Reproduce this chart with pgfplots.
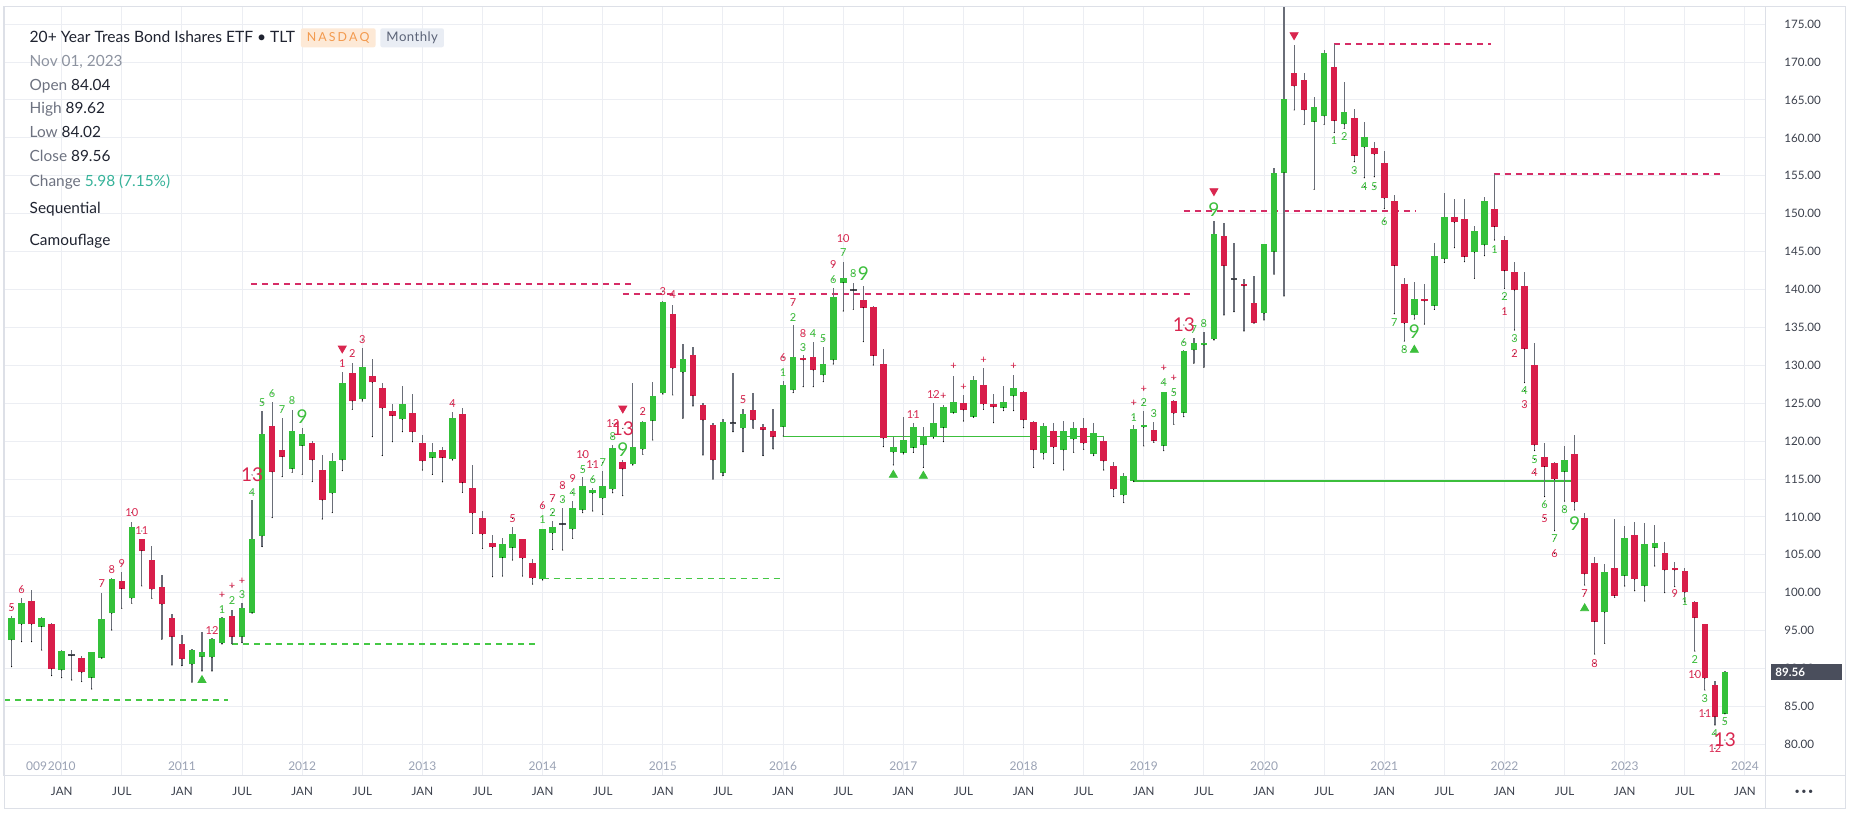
\documentclass[border=0pt]{standalone}
\usepackage{fontspec}
\setmainfont{Lato}
\usepackage{pgfplots}
\usepackage{pgfplotstable}
\pgfplotsset{compat=1.18}
\pgfplotsset{nomk/.style={only marks, mark=*, mark size=0.01pt, mark options={draw=none, fill=none}}}
\newcommand\fs[1]{\fontsize{#1}{#1}\selectfont}
\definecolor{upc}{HTML}{34C13A}
\definecolor{dnc}{HTML}{D81E4A}
\definecolor{wickc}{HTML}{6A6E78}
\definecolor{gridc}{HTML}{ECEEF3}
\definecolor{framec}{HTML}{DDE0E7}
\definecolor{tickc}{HTML}{3A3F4B}
\definecolor{yearc}{HTML}{9AA2B4}
\definecolor{tdg}{HTML}{3CBF3C}
\definecolor{tdr}{HTML}{D9264F}
\definecolor{pinkc}{HTML}{D62D66}
\definecolor{gdash}{HTML}{45C845}
\definecolor{boxc}{HTML}{4A4E5C}
\definecolor{titlec}{HTML}{1F2330}
\definecolor{grayt}{HTML}{8D93A0}
\definecolor{labc}{HTML}{6D7280}
\definecolor{tealc}{HTML}{36B39A}
\definecolor{nasbg}{HTML}{FDE9D6}
\definecolor{nastx}{HTML}{F39A4E}
\definecolor{monbg}{HTML}{E9EDF4}
\definecolor{montx}{HTML}{5C6478}

% up candles: month index (0 = Jan 2010), open, high, low, close
\pgfplotstableread{
m o h l c
-5 93.76 96.97 90.24 96.62
-4 95.83 99.26 93.54 98.69
-2 95.52 96.84 92.44 96.71
0 89.80 92.40 88.79 92.31
3 88.79 92.22 87.30 92.14
4 91.43 100.01 91.34 96.49
5 97.28 101.90 95.08 101.77
7 99.26 109.37 98.60 108.63
13 90.55 92.53 88.18 92.44
14 91.57 94.86 89.67 92.14
15 91.48 93.98 89.67 93.90
16 93.32 96.84 93.24 96.71
18 94.20 98.60 93.41 97.94
19 97.37 112.23 97.30 107.09
20 107.48 123.97 106.08 120.90
23 116.37 124.11 115.88 121.34
24 119.40 121.78 115.62 120.90
27 113.11 118.48 110.56 117.38
28 117.51 129.16 116.10 127.71
30 125.51 132.24 125.29 129.74
34 122.87 127.26 121.24 124.85
37 117.81 119.70 115.61 118.51
39 117.59 123.88 117.50 123.09
44 104.62 107.26 102.20 106.38
45 105.94 108.71 104.31 107.70
48 101.76 108.44 101.67 108.36
49 107.83 109.45 105.72 108.62
51 108.36 112.09 107.17 111.13
52 110.91 115.22 110.56 114.12
53 113.11 113.77 110.78 113.55
54 112.45 116.10 110.34 114.07
55 113.63 119.48 113.19 119.04
57 116.93 127.71 116.84 119.26
58 118.91 122.69 118.25 122.52
59 122.69 127.75 120.14 125.95
60 126.30 138.52 126.20 138.30
62 129.07 132.81 123.00 130.78
66 115.83 122.87 115.44 122.56
68 121.68 124.19 118.60 123.57
72 121.90 127.97 120.67 127.40
73 126.74 135.32 126.39 131.05
76 128.72 132.37 127.84 130.17
77 130.70 140.16 130.17 138.97
78 140.90 143.67 137.16 141.56
83 118.52 120.59 116.85 119.18
84 118.48 123.14 118.30 120.15
85 119.14 122.35 118.52 121.82
86 119.49 121.91 116.54 120.72
87 120.50 125.07 120.40 122.43
88 121.77 124.76 119.93 124.46
89 123.75 128.65 123.70 125.18
91 123.23 128.59 123.14 128.06
94 124.41 127.32 124.02 125.20
95 125.95 128.72 124.02 126.96
98 118.39 122.35 117.64 121.99
100 118.83 122.65 116.19 121.33
101 120.24 122.57 118.52 121.77
103 118.30 122.35 118.08 121.03
106 112.85 115.84 111.88 115.40
107 114.74 122.13 114.65 121.55
108 121.82 124.02 119.36 122.00
110 119.39 126.52 118.73 126.43
112 123.75 132.00 123.22 131.88
113 132.02 133.55 130.26 132.90
114 132.68 134.44 129.73 132.98
115 133.42 149.08 133.33 147.32
120 136.85 146.00 135.97 145.96
121 144.99 155.98 142.00 155.41
122 155.41 179.70 139.14 165.09
125 162.14 165.44 153.21 164.03
126 162.89 171.59 161.79 171.15
128 161.83 167.33 161.26 163.37
130 158.75 162.14 154.75 160.07
135 136.63 141.03 136.10 138.70
137 137.86 146.09 137.38 144.42
138 144.02 152.77 143.58 149.61
141 144.90 148.37 141.47 147.76
142 145.87 152.16 144.46 151.67
150 115.96 119.35 112.09 117.50
154 97.41 103.78 93.32 102.77
156 102.25 108.80 100.88 107.26
158 100.88 109.15 98.90 106.42
159 105.94 108.93 103.52 106.51
166 84.04 89.62 84.02 89.56
}\up

% down candles
\pgfplotstableread{
m o h l c
-3 98.95 100.36 93.54 95.83
-1 95.83 95.96 89.06 89.94
2 91.34 91.70 88.27 89.50
6 101.55 102.78 97.94 100.53
8 107.05 107.15 100.89 105.55
9 104.32 106.16 99.26 100.45
10 100.80 102.34 93.85 98.47
11 96.71 97.15 90.46 94.20
12 93.24 94.42 90.38 91.26
17 96.97 97.72 93.24 94.20
21 122.00 125.21 109.90 115.93
22 118.83 123.10 115.31 117.95
25 119.80 120.02 114.65 117.51
26 116.19 118.17 109.73 112.23
29 128.94 130.35 124.19 125.29
31 128.59 130.79 120.59 127.76
32 126.97 127.71 118.10 124.33
33 124.01 124.85 119.92 123.35
35 123.75 126.16 119.92 121.20
36 119.79 120.80 116.18 117.37
38 118.82 119.26 114.64 117.81
40 123.53 124.32 113.24 114.51
41 113.85 116.84 107.83 110.47
42 109.81 110.82 105.85 107.70
43 106.51 107.61 102.11 105.98
46 107.04 107.12 102.20 104.53
47 103.87 104.40 101.14 101.89
56 117.28 117.50 112.80 116.32
61 136.72 137.95 126.08 129.60
63 131.36 132.46 124.63 125.99
64 124.76 124.98 118.16 122.78
65 122.12 122.34 114.95 117.50
69 124.10 126.30 121.68 122.78
70 121.82 122.30 118.08 121.50
71 121.33 124.19 118.96 120.59
74 130.88 131.36 127.18 130.70
75 131.05 133.03 127.18 129.38
80 138.62 140.46 133.12 137.60
81 137.74 137.82 130.04 131.27
82 130.17 132.15 119.27 120.37
90 125.07 126.08 122.65 124.11
92 127.40 129.60 124.19 124.85
93 124.85 126.17 122.43 124.50
96 126.52 126.60 121.77 122.79
97 122.57 122.65 116.54 118.83
99 121.38 122.43 117.07 119.18
102 121.77 123.01 118.92 119.71
104 120.02 120.59 116.19 117.38
105 116.72 117.20 112.67 113.64
109 121.46 122.56 119.83 120.06
111 125.29 125.37 122.21 123.66
116 147.10 148.73 136.63 143.14
118 140.77 141.34 134.52 140.50
119 138.17 141.82 135.53 135.60
123 168.60 172.25 163.68 166.84
124 167.64 168.52 161.79 163.68
127 169.31 172.40 160.70 162.27
129 162.58 163.76 156.86 157.65
131 158.62 159.41 154.88 157.83
132 156.73 158.27 150.70 152.02
133 151.72 152.46 136.80 143.14
134 140.68 141.47 133.20 135.53
136 138.74 140.68 135.44 138.48
139 149.52 151.89 145.51 148.86
140 149.30 151.89 143.67 144.33
143 150.57 155.23 146.53 148.29
144 146.53 147.05 140.15 142.48
145 142.35 143.58 134.65 139.93
146 140.46 142.35 127.71 132.15
147 130.04 132.98 118.74 119.48
148 117.86 119.79 112.67 116.62
149 117.06 117.28 108.18 114.95
151 118.30 120.80 110.91 111.92
152 109.90 110.56 101.01 102.47
153 103.87 104.75 91.91 96.18
155 103.21 109.72 99.39 99.61
157 107.57 109.37 100.26 101.76
160 105.28 106.64 100.00 102.99
161 103.30 104.00 100.79 102.99
162 102.86 103.21 98.81 100.04
163 98.81 98.90 92.30 96.70
164 95.82 95.90 87.16 88.70
165 87.82 88.39 82.54 83.64
}\dn

% doji candles
\pgfplotstableread{
m o h l c
1 91.70 92.44 88.49 91.76
50 109.00 111.13 105.63 109.15
67 122.40 128.94 121.24 122.47
79 139.89 140.90 137.38 139.98
117 141.43 146.09 137.07 141.30
}\dj

% TD sequential counts: small green
\pgfplotstableread{
m p t
16 97.81 1
17 98.91 2
18 99.79 3
19 113.25 4
20 125.07 5
21 126.22 6
22 124.19 7
23 125.29 8
48 109.59 1
49 110.60 2
50 112.23 3
51 113.19 4
52 116.27 5
53 114.95 6
54 117.15 7
55 120.58 8
72 129.03 1
73 136.33 2
74 132.33 3
75 134.13 4
76 133.47 5
77 141.25 6
78 144.86 7
79 142.13 8
107 123.14 1
108 125.07 2
109 123.66 3
110 127.71 4
111 126.39 5
112 133.03 6
113 134.65 7
114 135.53 8
127 159.60 1
128 160.16 2
129 155.67 3
130 153.56 4
131 153.56 5
132 148.95 6
133 135.62 7
134 132.10 8
143 145.30 1
144 139.05 2
145 133.47 3
146 126.65 4
147 117.59 5
148 111.57 6
149 107.17 7
150 110.99 8
162 98.81 1
163 91.12 2
164 86.06 3
165 81.44 4
166 82.98 5
}\sg

% small red
\pgfplotstableread{
m p t
-5 98.03 5
-4 100.36 6
4 101.15 7
5 103.09 8
6 103.79 9
7 110.56 10
8 108.14 11
15 95.00 12
16 99.70 +
17 100.80 +
18 101.55 +
28 130.26 1
29 131.49 2
30 133.34 3
39 124.89 4
45 109.81 5
48 111.43 6
49 112.45 7
50 114.12 8
51 115.08 9
52 118.16 10
53 116.93 11
55 122.34 12
58 123.88 2
60 139.71 3
61 139.27 4
68 125.51 5
72 131.01 6
73 138.26 7
74 134.13 8
77 143.23 9
78 146.66 10
85 123.44 11
87 126.08 12
88 125.95 +
89 129.82 +
90 127.10 +
92 130.70 +
95 129.82 +
107 124.98 +
108 126.83 +
110 129.60 +
111 128.28 +
144 137.07 1
145 131.58 2
146 124.76 3
147 115.83 4
148 109.81 5
149 105.19 6
152 99.91 7
153 90.68 8
161 99.83 9
163 89.23 10
164 84.08 11
165 79.46 12
}\sr

\pgfplotstableread{
m p t
24 123.23 9
56 118.82 9
80 142.13 9
115 150.57 9
135 134.43 9
151 109.15 9
}\bg

\pgfplotstableread{
m p t
19 115.53 13
56 121.68 13
112 135.31 13
166 80.56 13
}\br

\begin{document}
\begin{tikzpicture}
\useasboundingbox (0,0) rectangle (924.5pt,408.5pt);
\fill[white] (0,0) rectangle (924.5pt,408.5pt);
\begin{axis}[
  at={(2pt,20.5pt)}, anchor=south west,
  scale only axis, width=880.5pt, height=384.5pt,
  xmin=-5.76, xmax=170.0, ymin=75.82, ymax=177.27,
  /pgf/number format/assume math mode=true,
  axis line style={draw=framec, line width=0.5pt},
  grid=major, major grid style={draw=gridc, line width=0.5pt},
  major tick length=0pt, tick style={draw=none},
  xtick={0,6,...,168},
  xticklabels={JAN,JUL,JAN,JUL,JAN,JUL,JAN,JUL,JAN,JUL,JAN,JUL,JAN,JUL,JAN,JUL,JAN,JUL,JAN,JUL,JAN,JUL,JAN,JUL,JAN,JUL,JAN,JUL,JAN},
  xticklabel style={font=\fs{5.8}, text=tickc, anchor=center, yshift=-7.5pt},
  ytick={80,85,...,175},
  yticklabel pos=right,
  y tick label style={/pgf/number format/fixed, /pgf/number format/fixed zerofill, /pgf/number format/precision=2},
  yticklabel style={font=\fs{5.8}, text=tickc, anchor=west, inner sep=0pt, xshift=9.5pt},
  extra y ticks={89.56},
  extra y tick style={grid=none, yticklabel style={fill=boxc, text=white, font=\fs{5.8}\bfseries, inner xsep=2pt, inner ysep=0pt, minimum height=8pt, text width=31.5pt, align=left, xshift=-6.5pt}},
]
% TD support / resistance lines
\addplot[gdash, line width=0.85pt, dash pattern=on 3pt off 2.5pt] coordinates {(-5.76,85.85) (16.6,85.85)};
\addplot[gdash, line width=0.85pt, dash pattern=on 3pt off 2.5pt] coordinates {(17,93.23) (47.7,93.23)};
\addplot[gdash, line width=0.85pt, dash pattern=on 3pt off 2.5pt] coordinates {(48,101.86) (71.9,101.86)};
\addplot[pinkc, line width=0.85pt, dash pattern=on 3pt off 2.5pt] coordinates {(18.9,140.7) (57.1,140.7)};
\addplot[pinkc, line width=0.85pt, dash pattern=on 3pt off 2.5pt] coordinates {(56,139.4) (113,139.4)};
\addplot[pinkc, line width=0.85pt, dash pattern=on 3pt off 2.5pt] coordinates {(112,150.35) (135.1,150.35)};
\addplot[pinkc, line width=0.85pt, dash pattern=on 3pt off 2.5pt] coordinates {(127,172.4) (142.7,172.4)};
\addplot[pinkc, line width=0.85pt, dash pattern=on 3pt off 2.5pt] coordinates {(143,155.23) (166,155.23)};
\addplot[tdg, line width=0.75pt] coordinates {(72,120.59) (104,120.59)};
\addplot[tdg, line width=0.75pt] coordinates {(107,114.74) (150.9,114.74)};
% wicks
\addplot[nomk, error bars/.cd, y dir=plus, y explicit, error mark=none,
  error bar style={line width=0.6pt, draw=wickc}]
  table[x=m, y=l, y error plus expr={\thisrow{h}-\thisrow{l}}] {\up};
\addplot[nomk, error bars/.cd, y dir=plus, y explicit, error mark=none,
  error bar style={line width=0.6pt, draw=wickc}]
  table[x=m, y=l, y error plus expr={\thisrow{h}-\thisrow{l}}] {\dn};
\addplot[nomk, error bars/.cd, y dir=plus, y explicit, error mark=none,
  error bar style={line width=0.6pt, draw=wickc}]
  table[x=m, y=l, y error plus expr={\thisrow{h}-\thisrow{l}}] {\dj};
% bodies
\addplot[nomk, error bars/.cd, y dir=plus, y explicit, error mark=none,
  error bar style={line width=3.3pt, draw=upc}]
  table[x=m, y=o, y error plus expr={max(\thisrow{c}-\thisrow{o},0.25)}] {\up};
\addplot[nomk, error bars/.cd, y dir=plus, y explicit, error mark=none,
  error bar style={line width=3.3pt, draw=dnc}]
  table[x=m, y=c, y error plus expr={max(\thisrow{o}-\thisrow{c},0.25)}] {\dn};
\addplot[nomk, error bars/.cd, x dir=both, x fixed=0.33, error mark=none,
  error bar style={line width=0.9pt, draw=wickc!70!black}]
  table[x=m, y expr={(\thisrow{o}+\thisrow{c})/2}] {\dj};
% setup arrows
\addplot[only marks, mark=triangle*, mark size=2.3pt, color=tdg] coordinates {(14,88.45) (83,115.53) (86,115.40) (135,132.02) (152,97.93)};
\addplot[only marks, mark=triangle*, mark size=2.3pt, color=tdr, mark options={rotate=180}] coordinates {(28,132.24) (56,124.32) (115,153.0) (123,173.57)};
% counts
\addplot[nomk, nodes near coords, point meta=explicit symbolic,
  every node near coord/.append style={anchor=center, inner sep=0pt, font=\fs{5.5}, text=tdg}]
  table[x=m, y=p, meta=t] {\sg};
\addplot[nomk, nodes near coords, point meta=explicit symbolic,
  every node near coord/.append style={anchor=center, inner sep=0pt, font=\fs{5.5}, text=tdr}]
  table[x=m, y=p, meta=t] {\sr};
\addplot[nomk, nodes near coords, point meta=explicit symbolic,
  every node near coord/.append style={anchor=center, inner sep=0pt, font=\fs{9.5}, text=tdg}]
  table[x=m, y=p, meta=t] {\bg};
\addplot[nomk, nodes near coords, point meta=explicit symbolic,
  every node near coord/.append style={anchor=center, inner sep=0pt, font=\fs{9.5}, text=tdr}]
  table[x=m, y=p, meta=t] {\br};
% year labels
\node[font=\fs{6}, text=yearc, inner sep=0pt, yshift=5pt] (y2010) at (axis cs:0,75.82) {2010};
\node[font=\fs{6}, text=yearc, inner sep=0pt, anchor=east] at (y2010.west) {009};
\node[font=\fs{6}, text=yearc, inner sep=0pt, yshift=5pt] at (axis cs:12,75.82) {2011};
\node[font=\fs{6}, text=yearc, inner sep=0pt, yshift=5pt] at (axis cs:24,75.82) {2012};
\node[font=\fs{6}, text=yearc, inner sep=0pt, yshift=5pt] at (axis cs:36,75.82) {2013};
\node[font=\fs{6}, text=yearc, inner sep=0pt, yshift=5pt] at (axis cs:48,75.82) {2014};
\node[font=\fs{6}, text=yearc, inner sep=0pt, yshift=5pt] at (axis cs:60,75.82) {2015};
\node[font=\fs{6}, text=yearc, inner sep=0pt, yshift=5pt] at (axis cs:72,75.82) {2016};
\node[font=\fs{6}, text=yearc, inner sep=0pt, yshift=5pt] at (axis cs:84,75.82) {2017};
\node[font=\fs{6}, text=yearc, inner sep=0pt, yshift=5pt] at (axis cs:96,75.82) {2018};
\node[font=\fs{6}, text=yearc, inner sep=0pt, yshift=5pt] at (axis cs:108,75.82) {2019};
\node[font=\fs{6}, text=yearc, inner sep=0pt, yshift=5pt] at (axis cs:120,75.82) {2020};
\node[font=\fs{6}, text=yearc, inner sep=0pt, yshift=5pt] at (axis cs:132,75.82) {2021};
\node[font=\fs{6}, text=yearc, inner sep=0pt, yshift=5pt] at (axis cs:144,75.82) {2022};
\node[font=\fs{6}, text=yearc, inner sep=0pt, yshift=5pt] at (axis cs:156,75.82) {2023};
\node[font=\fs{6}, text=yearc, inner sep=0pt, yshift=5pt] at (axis cs:168,75.82) {2024};
\end{axis}
% frame and separators
\draw[framec, line width=0.5pt] (2pt,4pt) rectangle (922.5pt,405pt);
\draw[framec, line width=0.5pt] (2pt,20.5pt) -- (922.5pt,20.5pt);
\draw[framec, line width=0.5pt] (882.5pt,4pt) -- (882.5pt,405pt);
\node[font=\fs{4.5}, text=tickc] at (902pt,12.5pt) {•\,•\,•};
% header block
\node[anchor=base west, inner sep=0pt, text=titlec, font=\fs{7.8}] (title) at (14.65pt,387.25pt) {20+ Year Treas Bond Ishares ETF • TLT};
\node[anchor=west, fill=nasbg, text=nastx, font=\fs{6.2}, inner xsep=3pt, inner ysep=0pt, minimum height=9.5pt, rounded corners=1pt] (nas) at ([xshift=2.5pt]title.east |- 0pt,389.6pt) {N\,A\,S\,D\,A\,Q};
\node[anchor=west, fill=monbg, text=montx, font=\fs{6.6}, inner xsep=3pt, inner ysep=0pt, minimum height=9.5pt, rounded corners=1pt] at ([xshift=2pt]nas.east) {M\kern0.2pt o\kern0.2pt n\kern0.2pt t\kern0.2pt h\kern0.2pt l\kern0.2pt y};
\node[anchor=base west, inner sep=0pt, text=grayt, font=\fs{7.7}] at (14.65pt,375pt) {Nov 01, 2023};
\node[anchor=base west, inner sep=0pt, font=\fs{7.7}] at (14.65pt,363.25pt) {\textcolor{labc}{Open} \textcolor{titlec}{84.04}};
\node[anchor=base west, inner sep=0pt, font=\fs{7.7}] at (14.65pt,351.5pt) {\textcolor{labc}{High} \textcolor{titlec}{89.62}};
\node[anchor=base west, inner sep=0pt, font=\fs{7.7}] at (14.65pt,339.5pt) {\textcolor{labc}{Low} \textcolor{titlec}{84.02}};
\node[anchor=base west, inner sep=0pt, font=\fs{7.7}] at (14.65pt,327.5pt) {\textcolor{labc}{Close} \textcolor{titlec}{89.56}};
\node[anchor=base west, inner sep=0pt, font=\fs{7.7}] at (14.65pt,315.25pt) {\textcolor{labc}{Change} \textcolor{tealc}{5.98 (7.15\%)}};
\node[anchor=base west, inner sep=0pt, font=\fs{7.7}, text=titlec] at (14.65pt,301.5pt) {Sequential};
\node[anchor=base west, inner sep=0pt, font=\fs{7.7}, text=titlec] at (14.65pt,285.75pt) {Camouflage};
\end{tikzpicture}
\end{document}
